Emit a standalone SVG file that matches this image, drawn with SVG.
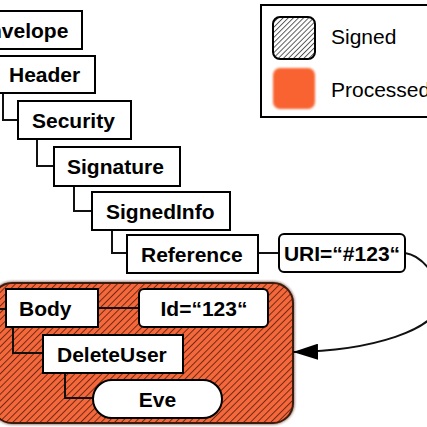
<svg xmlns="http://www.w3.org/2000/svg" width="427" height="427" viewBox="0 0 427 427">
  <style>
    .box { fill: #ffffff; stroke: #000000; stroke-width: 2; }
    .lbl { font-family: "Liberation Sans", Arial, sans-serif; font-weight: bold; font-size: 21px; fill: #000000; }
    .leg { font-family: "Liberation Sans", Arial, sans-serif; font-size: 21px; fill: #000000; }
    .con { fill: none; stroke: #111111; stroke-width: 2; }
  </style>
  <defs>
    <pattern id="hatchRed" patternUnits="userSpaceOnUse" width="4.8" height="4.8" patternTransform="rotate(45)">
      <rect width="4.8" height="4.8" fill="#f4673a"/>
      <line x1="0.5" y1="0" x2="0.5" y2="4.8" stroke="#5a2010" stroke-width="0.85"/>
    </pattern>
    <pattern id="hatchGray" patternUnits="userSpaceOnUse" width="3.6" height="3.6" patternTransform="rotate(45)">
      <rect width="3.6" height="3.6" fill="#ffffff"/>
      <line x1="0.5" y1="0" x2="0.5" y2="3.6" stroke="#333333" stroke-width="0.8"/>
    </pattern>
    <filter id="glow" x="-10%" y="-10%" width="120%" height="120%">
      <feGaussianBlur in="SourceGraphic" stdDeviation="1.5" result="b"/>
      <feMerge><feMergeNode in="b"/><feMergeNode in="SourceGraphic"/></feMerge>
    </filter>
    <filter id="soft" x="-20%" y="-20%" width="140%" height="140%">
      <feGaussianBlur stdDeviation="1.2"/>
    </filter>
    <marker id="arrow" viewBox="0 0 25 16" markerWidth="25" markerHeight="16" refX="25" refY="8" orient="auto" markerUnits="userSpaceOnUse">
      <path d="M0,0 L25,8 L0,16 Z" fill="#000000"/>
    </marker>
  </defs>

  <rect width="427" height="427" fill="#ffffff"/>

  <g id="legend">
    <rect x="261" y="5" width="180" height="112" class="box"/>
    <rect x="273" y="17" width="42" height="42" rx="7" fill="url(#hatchGray)" stroke="#000000" stroke-width="2"/>
    <text x="331" y="44" class="leg">Signed</text>
    <rect x="273" y="68" width="42" height="41" rx="7" fill="#f96432" filter="url(#soft)"/>
    <text x="331" y="97" class="leg">Processed</text>
  </g>

  <g id="body-region">
    <rect x="-8" y="283" width="301" height="140" rx="20" fill="url(#hatchRed)" stroke="#3b1a0e" stroke-width="2" filter="url(#glow)"/>
  </g>

  <g id="connectors">
    <path class="con" d="M-25,49 V74 H-5"/>
    <path class="con" d="M-25,49 V309 H6"/>
    <path class="con" d="M3,93 V120 H18"/>
    <path class="con" d="M37,139 V166 H54"/>
    <path class="con" d="M74,186 V211 H92"/>
    <path class="con" d="M112,230 V253 H127"/>
    <path class="con" d="M258,253 H279"/>
    <path class="con" d="M98,308 H139"/>
    <path class="con" d="M13,327 V353 H43"/>
    <path class="con" d="M65,373 V398 H93"/>
    <path class="con" d="M405,253 C420,255 440,275 440,300 C440,330 370,351 293,352" marker-end="url(#arrow)"/>
  </g>

  <g id="envelope">
    <rect x="-39" y="11" width="121" height="38" class="box"/>
    <text x="-25" y="38" class="lbl">Envelope</text>
  </g>
  <g id="header">
    <rect x="-5" y="56" width="100" height="37" class="box"/>
    <text x="9" y="82" class="lbl">Header</text>
  </g>
  <g id="security">
    <rect x="18" y="101" width="113" height="38" class="box"/>
    <text x="32" y="128" class="lbl">Security</text>
  </g>
  <g id="signature">
    <rect x="54" y="147" width="126" height="39" class="box"/>
    <text x="67" y="174" class="lbl">Signature</text>
  </g>
  <g id="signedinfo">
    <rect x="92" y="192" width="138" height="38" class="box"/>
    <text x="106" y="219" class="lbl">SignedInfo</text>
  </g>
  <g id="reference">
    <rect x="127" y="235" width="131" height="38" class="box"/>
    <text x="141" y="262" class="lbl">Reference</text>
  </g>
  <g id="uri">
    <rect x="279" y="234" width="126" height="38" rx="5" class="box"/>
    <text x="342" y="261" class="lbl" text-anchor="middle">URI=“#123“</text>
  </g>
  <g id="body">
    <rect x="6" y="289" width="92" height="38" class="box"/>
    <text x="19" y="316" class="lbl">Body</text>
  </g>
  <g id="id-attr">
    <rect x="139" y="289" width="129" height="38" rx="5" class="box"/>
    <text x="204" y="316" class="lbl" text-anchor="middle">Id=“123“</text>
  </g>
  <g id="deleteuser">
    <rect x="43" y="335" width="140" height="38" class="box"/>
    <text x="57" y="362" class="lbl">DeleteUser</text>
  </g>
  <g id="eve">
    <rect x="93" y="380" width="129" height="38" rx="19" class="box"/>
    <text x="157.5" y="407" class="lbl" text-anchor="middle">Eve</text>
  </g>
</svg>
